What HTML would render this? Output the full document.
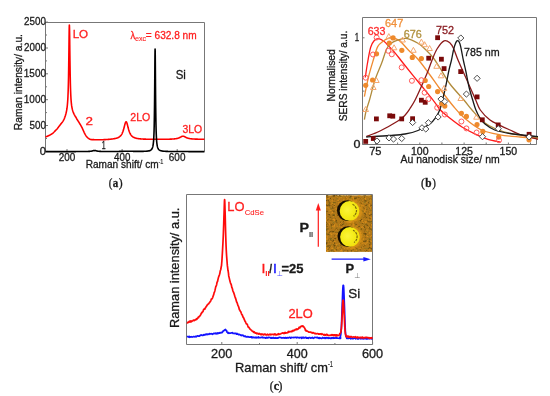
<!DOCTYPE html>
<html><head><meta charset="utf-8"><style>
html,body{margin:0;padding:0;background:#fff;}
svg{display:block;}
</style></head><body>
<svg width="550" height="396" viewBox="0 0 550 396">
<rect width="550" height="396" fill="#fff"/>

<defs>
<filter id="tex" x="0" y="0" width="100%" height="100%" color-interpolation-filters="sRGB">
 <feTurbulence type="fractalNoise" baseFrequency="0.42" numOctaves="3" seed="11" result="n"/>
 <feColorMatrix in="n" type="matrix" values="0 0 0 0 0.42  0 0 0 0 0.30  0 0 0 0 0.05  -3.4 0 0 0 1.72" result="dk"/>
 <feColorMatrix in="n" type="matrix" values="0 0 0 0 0.86  0 0 0 0 0.56  0 0 0 0 0.10  0 3.4 0 0 -1.72" result="lt"/>
 <feColorMatrix in="n" type="matrix" values="0 0 0 0 0.50  0 0 0 0 0.46  0 0 0 0 0.12  0 0 3.0 0 -1.75" result="ol"/>
 <feMerge result="m"><feMergeNode in="SourceGraphic"/><feMergeNode in="dk"/><feMergeNode in="lt"/><feMergeNode in="ol"/></feMerge>
 <feGaussianBlur in="m" stdDeviation="0.35"/>
</filter>
<filter id="soft" x="-20%" y="-20%" width="140%" height="140%"><feGaussianBlur stdDeviation="0.8"/></filter>
<filter id="soft2" x="-20%" y="-20%" width="140%" height="140%"><feGaussianBlur stdDeviation="0.35"/></filter>
<radialGradient id="disc" cx="0.38" cy="0.45" r="0.65">
 <stop offset="0" stop-color="#fbf43a"/><stop offset="0.6" stop-color="#f4ea14"/><stop offset="0.9" stop-color="#f2e010"/><stop offset="1" stop-color="#eec010"/>
</radialGradient>
</defs>
<rect x="326" y="195.6" width="46" height="56" fill="#a87416"/>
<rect x="326" y="195.6" width="46" height="56" fill="#b27818" filter="url(#tex)"/>
<g>
<circle cx="350.6" cy="211.2" r="11.6" fill="#dc9414" opacity="0.85" filter="url(#soft)"/>
<circle cx="351.0" cy="237.2" r="11.6" fill="#dc9414" opacity="0.85" filter="url(#soft)"/>
<g filter="url(#soft2)">
<circle cx="347.3" cy="210.6" r="10.4" fill="#150c00"/>
<circle cx="349.6" cy="210.9" r="9.9" fill="url(#disc)"/>
<path d="M352.5,204.2 A7,7 0 0 1 353.6,216.2" fill="none" stroke="#7c6c0c" stroke-width="1.2" stroke-dasharray="2.5,0.8,3,1,2,0.6"/>
<circle cx="347.9" cy="236.6" r="10.3" fill="#150c00"/>
<circle cx="350.0" cy="236.9" r="9.9" fill="url(#disc)"/>
<path d="M353.0,230.2 A7,7 0 0 1 354.0,242.4" fill="none" stroke="#7c6c0c" stroke-width="1.2" stroke-dasharray="2.2,1,2.6,0.8,3,0.6"/>
</g>
</g>

<g fill="none" stroke="#777" stroke-width="1">
<path d="M45.5,22.5 H204.5 V151.5"/>
<path d="M45.5,22 V152"/>
<path d="M45.5,151.4 h2.5"/>
<path d="M45.5,138.5 h1.5"/>
<path d="M45.5,125.5 h2.5"/>
<path d="M45.5,112.6 h1.5"/>
<path d="M45.5,99.7 h2.5"/>
<path d="M45.5,86.8 h1.5"/>
<path d="M45.5,73.8 h2.5"/>
<path d="M45.5,60.9 h1.5"/>
<path d="M45.5,48.0 h2.5"/>
<path d="M45.5,35.0 h1.5"/>
<path d="M45.5,22.1 h2.5"/>
<path d="M67.0,151.5 v-2.5"/>
<path d="M94.5,151.5 v-1.5"/>
<path d="M122.1,151.5 v-2.5"/>
<path d="M149.7,151.5 v-1.5"/>
<path d="M177.2,151.5 v-2.5"/>
</g>
<path d="M45.51,136.92 L45.79,136.83 L46.06,136.74 L46.34,136.65 L46.61,136.55 L46.89,136.44 L47.16,136.33 L47.44,136.22 L47.72,136.10 L47.99,135.98 L48.27,135.85 L48.54,135.72 L48.82,135.58 L49.09,135.44 L49.37,135.30 L49.64,135.15 L49.92,135.01 L50.19,134.85 L50.47,134.70 L50.75,134.54 L51.02,134.39 L51.30,134.23 L51.57,134.06 L51.85,133.90 L52.12,133.74 L52.40,133.51 L52.67,133.28 L52.95,133.03 L53.23,132.78 L53.50,132.52 L53.78,132.26 L54.05,131.99 L54.33,131.72 L54.60,131.44 L54.88,131.16 L55.15,130.88 L55.43,130.60 L55.70,130.33 L55.98,130.05 L56.26,129.78 L56.53,129.51 L56.81,129.24 L57.08,128.98 L57.36,128.60 L57.63,128.23 L57.91,127.86 L58.18,127.49 L58.46,127.12 L58.73,126.76 L59.01,126.39 L59.29,126.03 L59.56,125.67 L59.84,125.31 L60.11,124.94 L60.39,124.58 L60.66,124.22 L60.94,123.88 L61.21,123.54 L61.49,123.20 L61.77,122.86 L62.04,122.51 L62.32,122.15 L62.59,121.77 L62.87,121.37 L63.14,120.94 L63.42,120.47 L63.69,119.97 L63.97,119.41 L64.25,118.78 L64.52,118.09 L64.80,117.34 L65.07,116.53 L65.35,115.66 L65.62,114.73 L65.90,113.73 L65.97,113.46 L66.04,113.19 L66.10,112.91 L66.17,112.62 L66.24,112.32 L66.31,112.02 L66.38,111.71 L66.45,111.38 L66.52,111.04 L66.59,110.69 L66.66,110.33 L66.72,109.95 L66.79,109.55 L66.86,109.14 L66.93,108.70 L67.00,108.24 L67.07,107.70 L67.14,107.13 L67.21,106.53 L67.28,105.90 L67.34,105.23 L67.41,104.51 L67.48,103.74 L67.55,102.91 L67.62,102.02 L67.69,101.04 L67.76,99.98 L67.83,98.82 L67.90,97.55 L67.96,96.14 L68.03,94.58 L68.10,92.86 L68.17,90.94 L68.24,88.81 L68.31,86.42 L68.38,83.76 L68.45,80.78 L68.52,77.46 L68.58,73.76 L68.65,69.66 L68.72,65.15 L68.79,60.25 L68.86,55.01 L68.93,49.52 L69.00,43.95 L69.07,38.55 L69.14,33.61 L69.20,29.49 L69.27,26.55 L69.34,25.07 L69.41,25.19 L69.48,26.92 L69.55,30.05 L69.62,34.29 L69.69,39.28 L69.75,44.68 L69.82,50.18 L69.89,55.56 L69.96,60.68 L70.03,65.44 L70.10,69.81 L70.17,73.77 L70.24,77.33 L70.31,80.53 L70.37,83.39 L70.44,85.95 L70.51,88.23 L70.58,90.28 L70.65,92.11 L70.72,93.75 L70.79,95.23 L70.86,96.56 L70.93,97.77 L70.99,98.86 L71.06,99.86 L71.13,100.77 L71.20,101.60 L71.27,102.36 L71.34,103.06 L71.41,103.71 L71.48,104.31 L71.55,104.86 L71.61,105.38 L71.68,105.86 L71.75,106.32 L71.82,106.74 L71.89,107.14 L71.96,107.52 L72.03,107.87 L72.10,108.21 L72.17,108.53 L72.23,108.84 L72.30,109.13 L72.37,109.41 L72.44,109.68 L72.51,109.94 L72.79,110.89 L73.06,111.73 L73.34,112.49 L73.61,113.20 L73.89,113.77 L74.16,114.30 L74.44,114.81 L74.71,115.30 L74.99,115.78 L75.27,116.26 L75.54,116.74 L75.82,117.22 L76.09,117.71 L76.37,118.21 L76.64,118.73 L76.92,119.25 L77.19,119.65 L77.47,120.06 L77.74,120.47 L78.02,120.89 L78.30,121.32 L78.57,121.75 L78.85,122.19 L79.12,122.64 L79.40,123.09 L79.67,123.55 L79.95,124.01 L80.22,124.47 L80.50,124.94 L80.78,125.40 L81.05,125.87 L81.33,126.34 L81.60,126.81 L81.88,127.36 L82.15,127.93 L82.43,128.52 L82.70,129.13 L82.98,129.75 L83.25,130.37 L83.53,131.00 L83.81,131.62 L84.08,132.23 L84.36,132.82 L84.63,133.39 L84.91,133.94 L85.18,134.45 L85.46,134.93 L85.73,135.36 L86.01,135.76 L86.28,136.13 L86.56,136.48 L86.84,136.80 L87.11,137.10 L87.39,137.38 L87.66,137.64 L87.94,137.89 L88.21,138.11 L88.49,138.32 L88.76,138.52 L89.04,138.70 L89.32,138.87 L89.59,139.03 L89.87,139.17 L90.14,139.29 L90.42,139.39 L90.69,139.47 L90.97,139.53 L91.24,139.58 L91.52,139.62 L91.80,139.64 L92.07,139.66 L92.35,139.67 L92.62,139.67 L92.90,139.68 L93.17,139.67 L93.45,139.67 L93.72,139.67 L94.00,139.67 L94.27,139.68 L94.55,139.69 L94.83,139.71 L95.10,139.72 L95.38,139.73 L95.65,139.74 L95.93,139.75 L96.20,139.75 L96.48,139.76 L96.75,139.76 L97.03,139.76 L97.31,139.76 L97.58,139.76 L97.86,139.76 L98.13,139.76 L98.41,139.76 L98.68,139.76 L98.96,139.76 L99.23,139.76 L99.51,139.75 L99.78,139.75 L100.06,139.75 L100.34,139.75 L100.61,139.74 L100.89,139.74 L101.16,139.74 L101.44,139.73 L101.71,139.73 L101.99,139.72 L102.26,139.71 L102.54,139.71 L102.81,139.70 L103.09,139.69 L103.37,139.68 L103.64,139.67 L103.92,139.66 L104.19,139.65 L104.47,139.64 L104.74,139.62 L105.02,139.61 L105.29,139.60 L105.57,139.58 L105.85,139.57 L106.12,139.55 L106.40,139.53 L106.67,139.52 L106.95,139.50 L107.22,139.48 L107.50,139.46 L107.77,139.44 L108.05,139.42 L108.33,139.40 L108.60,139.38 L108.88,139.36 L109.15,139.33 L109.43,139.31 L109.70,139.28 L109.98,139.25 L110.25,139.23 L110.53,139.20 L110.80,139.17 L111.08,139.14 L111.36,139.10 L111.63,139.07 L111.91,139.03 L112.18,139.00 L112.46,138.96 L112.73,138.92 L113.01,138.88 L113.28,138.83 L113.56,138.79 L113.84,138.74 L114.11,138.70 L114.39,138.65 L114.66,138.60 L114.94,138.55 L115.21,138.50 L115.49,138.44 L115.76,138.38 L116.04,138.31 L116.31,138.24 L116.59,138.16 L116.87,138.07 L117.14,137.98 L117.42,137.88 L117.69,137.78 L117.97,137.66 L118.24,137.53 L118.52,137.40 L118.79,137.24 L119.07,137.08 L119.34,136.89 L119.62,136.69 L119.90,136.47 L120.17,136.22 L120.45,135.95 L120.72,135.65 L121.00,135.31 L121.27,134.93 L121.55,134.51 L121.82,134.04 L122.10,133.52 L122.38,132.93 L122.65,132.27 L122.93,131.54 L123.20,130.73 L123.48,129.84 L123.75,128.87 L124.03,127.83 L124.30,126.75 L124.58,125.64 L124.86,124.57 L125.13,123.59 L125.41,122.76 L125.68,122.16 L125.96,121.84 L126.23,121.84 L126.51,122.15 L126.78,122.75 L127.06,123.58 L127.33,124.56 L127.61,125.63 L127.89,126.73 L128.16,127.82 L128.44,128.85 L128.71,129.82 L128.99,130.71 L129.26,131.52 L129.54,132.25 L129.81,132.90 L130.09,133.49 L130.37,134.01 L130.64,134.48 L130.92,134.90 L131.19,135.27 L131.47,135.61 L131.74,135.91 L132.02,136.18 L132.29,136.43 L132.57,136.65 L132.84,136.85 L133.12,137.03 L133.40,137.19 L133.67,137.34 L133.95,137.48 L134.22,137.60 L134.50,137.72 L134.77,137.82 L135.05,137.92 L135.32,138.01 L135.60,138.09 L135.88,138.17 L136.15,138.24 L136.43,138.30 L136.70,138.36 L136.98,138.42 L137.25,138.47 L137.53,138.52 L137.80,138.57 L138.08,138.61 L138.35,138.65 L138.63,138.69 L138.91,138.72 L139.18,138.75 L139.46,138.79 L139.73,138.81 L140.01,138.84 L140.28,138.87 L140.56,138.89 L140.83,138.92 L141.11,138.94 L141.38,138.96 L141.66,138.98 L141.94,139.00 L142.21,139.01 L142.49,139.03 L142.76,139.05 L143.04,139.06 L143.31,139.08 L143.59,139.09 L143.86,139.10 L144.14,139.11 L144.42,139.13 L144.69,139.14 L144.97,139.15 L145.24,139.16 L145.52,139.17 L145.79,139.17 L146.07,139.18 L146.34,139.19 L146.62,139.20 L146.90,139.21 L147.17,139.21 L147.45,139.22 L147.72,139.23 L148.00,139.23 L148.27,139.24 L148.55,139.24 L148.82,139.25 L149.10,139.25 L149.37,139.26 L149.65,139.26 L149.93,139.27 L150.20,139.27 L150.48,139.28 L150.75,139.28 L151.03,139.28 L151.30,139.29 L151.58,139.29 L151.85,139.29 L152.13,139.29 L152.41,139.30 L152.68,139.30 L152.75,139.30 L152.82,139.30 L152.89,139.30 L152.96,139.30 L153.02,139.30 L153.09,139.30 L153.16,139.30 L153.23,139.30 L153.30,139.30 L153.37,139.30 L153.44,139.31 L153.51,139.31 L153.58,139.31 L153.64,139.31 L153.71,139.31 L153.78,139.31 L153.85,139.31 L153.92,139.31 L153.99,139.31 L154.06,139.31 L154.13,139.31 L154.20,139.31 L154.26,139.31 L154.33,139.31 L154.40,139.31 L154.47,139.31 L154.54,139.31 L154.61,139.31 L154.68,139.31 L154.75,139.31 L154.82,139.31 L154.88,139.31 L154.95,139.31 L155.02,139.31 L155.09,139.31 L155.16,139.31 L155.23,139.31 L155.30,139.32 L155.37,139.32 L155.44,139.32 L155.50,139.32 L155.57,139.32 L155.64,139.32 L155.71,139.32 L155.78,139.32 L155.85,139.32 L155.92,139.32 L155.99,139.32 L156.06,139.32 L156.12,139.32 L156.19,139.32 L156.26,139.32 L156.33,139.32 L156.40,139.32 L156.47,139.32 L156.54,139.32 L156.61,139.32 L156.68,139.32 L156.74,139.32 L156.81,139.32 L156.88,139.32 L156.95,139.32 L157.02,139.32 L157.09,139.32 L157.16,139.32 L157.23,139.32 L157.30,139.32 L157.36,139.32 L157.43,139.32 L157.50,139.32 L157.57,139.32 L157.64,139.32 L157.71,139.32 L157.78,139.32 L157.85,139.32 L157.92,139.32 L158.19,139.32 L158.47,139.32 L158.74,139.32 L159.02,139.32 L159.29,139.32 L159.57,139.32 L159.84,139.32 L160.12,139.31 L160.39,139.31 L160.67,139.31 L160.95,139.31 L161.22,139.31 L161.50,139.31 L161.77,139.31 L162.05,139.30 L162.32,139.30 L162.60,139.30 L162.87,139.30 L163.15,139.29 L163.43,139.29 L163.70,139.29 L163.98,139.29 L164.25,139.28 L164.53,139.28 L164.80,139.28 L165.08,139.27 L165.35,139.27 L165.63,139.26 L165.90,139.26 L166.18,139.26 L166.46,139.25 L166.73,139.25 L167.01,139.24 L167.28,139.23 L167.56,139.23 L167.83,139.22 L168.11,139.22 L168.38,139.21 L168.66,139.20 L168.94,139.19 L169.21,139.18 L169.49,139.18 L169.76,139.17 L170.04,139.16 L170.31,139.15 L170.59,139.13 L170.86,139.12 L171.14,139.11 L171.41,139.10 L171.69,139.08 L171.97,139.07 L172.24,139.05 L172.52,139.03 L172.79,139.02 L173.07,139.00 L173.34,138.97 L173.62,138.95 L173.89,138.93 L174.17,138.90 L174.44,138.87 L174.72,138.84 L175.00,138.81 L175.27,138.77 L175.55,138.74 L175.82,138.69 L176.10,138.65 L176.37,138.60 L176.65,138.55 L176.92,138.49 L177.20,138.43 L177.48,138.36 L177.75,138.28 L178.03,138.20 L178.30,138.12 L178.58,138.02 L178.85,137.92 L179.13,137.81 L179.40,137.69 L179.68,137.56 L179.96,137.43 L180.23,137.29 L180.51,137.14 L180.78,136.99 L181.06,136.84 L181.33,136.70 L181.61,136.56 L181.88,136.44 L182.16,136.34 L182.43,136.26 L182.71,136.22 L182.99,136.20 L183.26,136.21 L183.54,136.26 L183.81,136.34 L184.09,136.44 L184.36,136.56 L184.64,136.69 L184.91,136.84 L185.19,136.98 L185.47,137.13 L185.74,137.28 L186.02,137.42 L186.29,137.55 L186.57,137.68 L186.84,137.80 L187.12,137.91 L187.39,138.01 L187.67,138.10 L187.94,138.19 L188.22,138.27 L188.50,138.34 L188.77,138.41 L189.05,138.47 L189.32,138.53 L189.60,138.58 L189.87,138.63 L190.15,138.67 L190.42,138.71 L190.70,138.75 L190.98,138.79 L191.25,138.82 L191.53,138.85 L191.80,138.88 L192.08,138.90 L192.35,138.93 L192.63,138.95 L192.90,138.97 L193.18,138.99 L193.45,139.01 L193.73,139.02 L194.01,139.04 L194.28,139.05 L194.56,139.07 L194.83,139.08 L195.11,139.09 L195.38,139.10 L195.66,139.11 L195.93,139.12 L196.21,139.13 L196.49,139.14 L196.76,139.15 L197.04,139.16 L197.31,139.17 L197.59,139.17 L197.86,139.18 L198.14,139.19 L198.41,139.19 L198.69,139.20 L198.96,139.20 L199.24,139.21 L199.52,139.22 L199.79,139.22 L200.07,139.22 L200.34,139.23 L200.62,139.23 L200.89,139.24 L201.17,139.24 L201.44,139.24 L201.72,139.25 L202.00,139.25 L202.27,139.25 L202.55,139.26 L202.82,139.26 L203.10,139.26 L203.37,139.27 L203.65,139.27 L203.92,139.27 L204.20,139.27 L204.47,139.27" fill="none" stroke="#ff0000" stroke-width="1.6" stroke-linejoin="round"/>
<path d="M45.51,151.60 L45.79,151.60 L46.06,151.60 L46.34,151.60 L46.61,151.60 L46.89,151.60 L47.16,151.60 L47.44,151.60 L47.72,151.60 L47.99,151.60 L48.27,151.60 L48.54,151.60 L48.82,151.60 L49.09,151.60 L49.37,151.60 L49.64,151.60 L49.92,151.60 L50.19,151.60 L50.47,151.60 L50.75,151.60 L51.02,151.60 L51.30,151.60 L51.57,151.60 L51.85,151.60 L52.12,151.60 L52.40,151.60 L52.67,151.60 L52.95,151.60 L53.23,151.60 L53.50,151.60 L53.78,151.60 L54.05,151.60 L54.33,151.60 L54.60,151.60 L54.88,151.60 L55.15,151.60 L55.43,151.60 L55.70,151.60 L55.98,151.60 L56.26,151.60 L56.53,151.60 L56.81,151.59 L57.08,151.59 L57.36,151.59 L57.63,151.59 L57.91,151.59 L58.18,151.59 L58.46,151.59 L58.73,151.59 L59.01,151.59 L59.29,151.59 L59.56,151.59 L59.84,151.59 L60.11,151.59 L60.39,151.59 L60.66,151.59 L60.94,151.59 L61.21,151.59 L61.49,151.59 L61.77,151.59 L62.04,151.59 L62.32,151.59 L62.59,151.59 L62.87,151.59 L63.14,151.59 L63.42,151.59 L63.69,151.59 L63.97,151.59 L64.25,151.59 L64.52,151.59 L64.80,151.59 L65.07,151.59 L65.35,151.59 L65.62,151.59 L65.90,151.59 L65.97,151.59 L66.04,151.59 L66.10,151.59 L66.17,151.59 L66.24,151.59 L66.31,151.59 L66.38,151.59 L66.45,151.59 L66.52,151.59 L66.59,151.59 L66.66,151.59 L66.72,151.59 L66.79,151.59 L66.86,151.59 L66.93,151.59 L67.00,151.59 L67.07,151.59 L67.14,151.59 L67.21,151.59 L67.28,151.59 L67.34,151.59 L67.41,151.59 L67.48,151.59 L67.55,151.59 L67.62,151.59 L67.69,151.59 L67.76,151.59 L67.83,151.59 L67.90,151.59 L67.96,151.59 L68.03,151.59 L68.10,151.59 L68.17,151.59 L68.24,151.59 L68.31,151.59 L68.38,151.59 L68.45,151.59 L68.52,151.59 L68.58,151.59 L68.65,151.59 L68.72,151.59 L68.79,151.59 L68.86,151.59 L68.93,151.59 L69.00,151.59 L69.07,151.59 L69.14,151.59 L69.20,151.59 L69.27,151.59 L69.34,151.59 L69.41,151.59 L69.48,151.59 L69.55,151.59 L69.62,151.59 L69.69,151.59 L69.75,151.59 L69.82,151.59 L69.89,151.59 L69.96,151.59 L70.03,151.59 L70.10,151.59 L70.17,151.59 L70.24,151.58 L70.31,151.58 L70.37,151.58 L70.44,151.58 L70.51,151.58 L70.58,151.58 L70.65,151.58 L70.72,151.58 L70.79,151.58 L70.86,151.58 L70.93,151.58 L70.99,151.58 L71.06,151.58 L71.13,151.58 L71.20,151.58 L71.27,151.58 L71.34,151.58 L71.41,151.58 L71.48,151.58 L71.55,151.58 L71.61,151.58 L71.68,151.58 L71.75,151.58 L71.82,151.58 L71.89,151.58 L71.96,151.58 L72.03,151.58 L72.10,151.58 L72.17,151.58 L72.23,151.58 L72.30,151.58 L72.37,151.58 L72.44,151.58 L72.51,151.58 L72.79,151.58 L73.06,151.58 L73.34,151.58 L73.61,151.58 L73.89,151.58 L74.16,151.58 L74.44,151.58 L74.71,151.58 L74.99,151.58 L75.27,151.58 L75.54,151.58 L75.82,151.58 L76.09,151.57 L76.37,151.57 L76.64,151.57 L76.92,151.57 L77.19,151.57 L77.47,151.57 L77.74,151.57 L78.02,151.57 L78.30,151.57 L78.57,151.57 L78.85,151.57 L79.12,151.56 L79.40,151.56 L79.67,151.56 L79.95,151.56 L80.22,151.56 L80.50,151.56 L80.78,151.56 L81.05,151.56 L81.33,151.55 L81.60,151.55 L81.88,151.55 L82.15,151.55 L82.43,151.55 L82.70,151.54 L82.98,151.54 L83.25,151.54 L83.53,151.54 L83.81,151.53 L84.08,151.53 L84.36,151.53 L84.63,151.52 L84.91,151.52 L85.18,151.52 L85.46,151.51 L85.73,151.51 L86.01,151.50 L86.28,151.50 L86.56,151.49 L86.84,151.48 L87.11,151.47 L87.39,151.47 L87.66,151.46 L87.94,151.45 L88.21,151.44 L88.49,151.42 L88.76,151.41 L89.04,151.40 L89.32,151.38 L89.59,151.36 L89.87,151.34 L90.14,151.31 L90.42,151.28 L90.69,151.25 L90.97,151.22 L91.24,151.18 L91.52,151.13 L91.80,151.07 L92.07,151.01 L92.35,150.95 L92.62,150.87 L92.90,150.80 L93.17,150.71 L93.45,150.63 L93.72,150.56 L94.00,150.50 L94.27,150.46 L94.55,150.44 L94.83,150.46 L95.10,150.50 L95.38,150.56 L95.65,150.63 L95.93,150.71 L96.20,150.79 L96.48,150.87 L96.75,150.94 L97.03,151.01 L97.31,151.07 L97.58,151.12 L97.86,151.17 L98.13,151.21 L98.41,151.24 L98.68,151.27 L98.96,151.30 L99.23,151.32 L99.51,151.35 L99.78,151.36 L100.06,151.38 L100.34,151.39 L100.61,151.41 L100.89,151.42 L101.16,151.43 L101.44,151.44 L101.71,151.45 L101.99,151.45 L102.26,151.46 L102.54,151.47 L102.81,151.47 L103.09,151.48 L103.37,151.48 L103.64,151.48 L103.92,151.49 L104.19,151.49 L104.47,151.49 L104.74,151.50 L105.02,151.50 L105.29,151.50 L105.57,151.50 L105.85,151.50 L106.12,151.51 L106.40,151.51 L106.67,151.51 L106.95,151.51 L107.22,151.51 L107.50,151.51 L107.77,151.51 L108.05,151.51 L108.33,151.51 L108.60,151.51 L108.88,151.51 L109.15,151.51 L109.43,151.51 L109.70,151.51 L109.98,151.51 L110.25,151.51 L110.53,151.51 L110.80,151.51 L111.08,151.51 L111.36,151.50 L111.63,151.50 L111.91,151.50 L112.18,151.50 L112.46,151.50 L112.73,151.50 L113.01,151.50 L113.28,151.49 L113.56,151.49 L113.84,151.49 L114.11,151.49 L114.39,151.49 L114.66,151.48 L114.94,151.48 L115.21,151.48 L115.49,151.47 L115.76,151.47 L116.04,151.47 L116.31,151.47 L116.59,151.46 L116.87,151.46 L117.14,151.45 L117.42,151.45 L117.69,151.45 L117.97,151.44 L118.24,151.44 L118.52,151.43 L118.79,151.43 L119.07,151.42 L119.34,151.42 L119.62,151.41 L119.90,151.41 L120.17,151.40 L120.45,151.40 L120.72,151.39 L121.00,151.38 L121.27,151.38 L121.55,151.37 L121.82,151.36 L122.10,151.36 L122.38,151.35 L122.65,151.34 L122.93,151.34 L123.20,151.33 L123.48,151.32 L123.75,151.32 L124.03,151.31 L124.30,151.30 L124.58,151.30 L124.86,151.29 L125.13,151.28 L125.41,151.28 L125.68,151.27 L125.96,151.27 L126.23,151.26 L126.51,151.26 L126.78,151.26 L127.06,151.26 L127.33,151.25 L127.61,151.25 L127.89,151.25 L128.16,151.25 L128.44,151.25 L128.71,151.26 L128.99,151.26 L129.26,151.26 L129.54,151.26 L129.81,151.27 L130.09,151.27 L130.37,151.28 L130.64,151.28 L130.92,151.29 L131.19,151.29 L131.47,151.30 L131.74,151.30 L132.02,151.31 L132.29,151.31 L132.57,151.32 L132.84,151.32 L133.12,151.33 L133.40,151.33 L133.67,151.34 L133.95,151.34 L134.22,151.35 L134.50,151.35 L134.77,151.36 L135.05,151.36 L135.32,151.37 L135.60,151.37 L135.88,151.37 L136.15,151.37 L136.43,151.38 L136.70,151.38 L136.98,151.38 L137.25,151.38 L137.53,151.39 L137.80,151.39 L138.08,151.39 L138.35,151.39 L138.63,151.39 L138.91,151.39 L139.18,151.39 L139.46,151.39 L139.73,151.39 L140.01,151.38 L140.28,151.38 L140.56,151.38 L140.83,151.38 L141.11,151.38 L141.38,151.37 L141.66,151.37 L141.94,151.36 L142.21,151.36 L142.49,151.35 L142.76,151.35 L143.04,151.34 L143.31,151.34 L143.59,151.33 L143.86,151.32 L144.14,151.31 L144.42,151.30 L144.69,151.29 L144.97,151.27 L145.24,151.26 L145.52,151.25 L145.79,151.23 L146.07,151.21 L146.34,151.19 L146.62,151.17 L146.90,151.14 L147.17,151.11 L147.45,151.08 L147.72,151.05 L148.00,151.01 L148.27,150.96 L148.55,150.91 L148.82,150.86 L149.10,150.79 L149.37,150.72 L149.65,150.63 L149.93,150.53 L150.20,150.41 L150.48,150.27 L150.75,150.11 L151.03,149.91 L151.30,149.66 L151.58,149.36 L151.85,148.98 L152.13,148.50 L152.41,147.86 L152.68,147.01 L152.75,146.75 L152.82,146.47 L152.89,146.17 L152.96,145.83 L153.02,145.47 L153.09,145.07 L153.16,144.63 L153.23,144.15 L153.30,143.62 L153.37,143.03 L153.44,142.37 L153.51,141.64 L153.58,140.82 L153.64,139.90 L153.71,138.87 L153.78,137.69 L153.85,136.36 L153.92,134.83 L153.99,133.09 L154.06,131.08 L154.13,128.75 L154.20,126.06 L154.26,122.92 L154.33,119.26 L154.40,114.98 L154.47,110.00 L154.54,104.21 L154.61,97.56 L154.68,90.03 L154.75,81.76 L154.82,73.05 L154.88,64.51 L154.95,57.00 L155.02,51.56 L155.09,49.14 L155.16,50.19 L155.23,54.52 L155.30,61.32 L155.37,69.57 L155.44,78.30 L155.50,86.80 L155.57,94.65 L155.64,101.66 L155.71,107.79 L155.78,113.08 L155.85,117.63 L155.92,121.53 L155.99,124.86 L156.06,127.73 L156.12,130.19 L156.19,132.32 L156.26,134.17 L156.33,135.78 L156.40,137.18 L156.47,138.42 L156.54,139.51 L156.61,140.47 L156.68,141.33 L156.74,142.10 L156.81,142.78 L156.88,143.40 L156.95,143.95 L157.02,144.45 L157.09,144.91 L157.16,145.32 L157.23,145.70 L157.30,146.04 L157.36,146.36 L157.43,146.65 L157.50,146.92 L157.57,147.16 L157.64,147.39 L157.71,147.60 L157.78,147.80 L157.85,147.98 L157.92,148.15 L158.19,148.72 L158.47,149.16 L158.74,149.50 L159.02,149.78 L159.29,150.01 L159.57,150.19 L159.84,150.35 L160.12,150.48 L160.39,150.59 L160.67,150.69 L160.95,150.77 L161.22,150.84 L161.50,150.90 L161.77,150.96 L162.05,151.01 L162.32,151.05 L162.60,151.09 L162.87,151.13 L163.15,151.16 L163.43,151.19 L163.70,151.21 L163.98,151.23 L164.25,151.26 L164.53,151.28 L164.80,151.29 L165.08,151.31 L165.35,151.32 L165.63,151.34 L165.90,151.35 L166.18,151.36 L166.46,151.37 L166.73,151.38 L167.01,151.39 L167.28,151.40 L167.56,151.41 L167.83,151.42 L168.11,151.43 L168.38,151.43 L168.66,151.44 L168.94,151.45 L169.21,151.45 L169.49,151.46 L169.76,151.46 L170.04,151.47 L170.31,151.47 L170.59,151.48 L170.86,151.48 L171.14,151.49 L171.41,151.49 L171.69,151.49 L171.97,151.50 L172.24,151.50 L172.52,151.50 L172.79,151.51 L173.07,151.51 L173.34,151.51 L173.62,151.51 L173.89,151.52 L174.17,151.52 L174.44,151.52 L174.72,151.52 L175.00,151.53 L175.27,151.53 L175.55,151.53 L175.82,151.53 L176.10,151.53 L176.37,151.54 L176.65,151.54 L176.92,151.54 L177.20,151.54 L177.48,151.54 L177.75,151.54 L178.03,151.54 L178.30,151.55 L178.58,151.55 L178.85,151.55 L179.13,151.55 L179.40,151.55 L179.68,151.55 L179.96,151.55 L180.23,151.55 L180.51,151.56 L180.78,151.56 L181.06,151.56 L181.33,151.56 L181.61,151.56 L181.88,151.56 L182.16,151.56 L182.43,151.56 L182.71,151.56 L182.99,151.56 L183.26,151.56 L183.54,151.56 L183.81,151.57 L184.09,151.57 L184.36,151.57 L184.64,151.57 L184.91,151.57 L185.19,151.57 L185.47,151.57 L185.74,151.57 L186.02,151.57 L186.29,151.57 L186.57,151.57 L186.84,151.57 L187.12,151.57 L187.39,151.57 L187.67,151.57 L187.94,151.57 L188.22,151.57 L188.50,151.58 L188.77,151.58 L189.05,151.58 L189.32,151.58 L189.60,151.58 L189.87,151.58 L190.15,151.58 L190.42,151.58 L190.70,151.58 L190.98,151.58 L191.25,151.58 L191.53,151.58 L191.80,151.58 L192.08,151.58 L192.35,151.58 L192.63,151.58 L192.90,151.58 L193.18,151.58 L193.45,151.58 L193.73,151.58 L194.01,151.58 L194.28,151.58 L194.56,151.58 L194.83,151.58 L195.11,151.58 L195.38,151.58 L195.66,151.58 L195.93,151.58 L196.21,151.59 L196.49,151.59 L196.76,151.59 L197.04,151.59 L197.31,151.59 L197.59,151.59 L197.86,151.59 L198.14,151.59 L198.41,151.59 L198.69,151.59 L198.96,151.59 L199.24,151.59 L199.52,151.59 L199.79,151.59 L200.07,151.59 L200.34,151.59 L200.62,151.59 L200.89,151.59 L201.17,151.59 L201.44,151.59 L201.72,151.59 L202.00,151.59 L202.27,151.59 L202.55,151.59 L202.82,151.59 L203.10,151.59 L203.37,151.59 L203.65,151.59 L203.92,151.59 L204.20,151.59 L204.47,151.59" fill="none" stroke="#000" stroke-width="1.6" stroke-linejoin="round"/>
<g fill="none" stroke="#777" stroke-width="1">
<path d="M362.5,144.5 V17.5 H536.5 V144.5 H362.5"/>
<path d="M362.5,144.4 h2"/>
<path d="M362.5,91.1 h2"/>
<path d="M362.5,37.8 h2"/>
<path d="M375.5,144.5 v-2"/>
<path d="M397.6,144.5 v-2"/>
<path d="M419.8,144.5 v-2"/>
<path d="M441.9,144.5 v-2"/>
<path d="M464.1,144.5 v-2"/>
<path d="M486.2,144.5 v-2"/>
<path d="M508.4,144.5 v-2"/>
<path d="M530.5,144.5 v-2"/>
</g>
<path d="M365.30,77.50 C365.67,75.08 366.62,68.00 367.50,63.00 C368.38,58.00 369.50,51.20 370.60,47.50 C371.70,43.80 372.77,42.28 374.10,40.80 C375.43,39.32 376.97,38.52 378.60,38.60 C380.23,38.68 382.13,39.97 383.90,41.30 C385.67,42.63 387.35,44.68 389.20,46.60 C391.05,48.52 392.57,49.90 395.00,52.80 C397.43,55.70 399.63,58.80 403.80,64.00 C407.97,69.20 414.97,77.78 420.00,84.00 C425.03,90.22 430.60,96.97 434.00,101.30 C437.40,105.63 437.73,107.17 440.40,110.00 C443.07,112.83 446.40,115.47 450.00,118.30 C453.60,121.13 457.78,124.37 462.00,127.00 C466.22,129.63 470.97,132.05 475.30,134.10 C479.63,136.15 483.80,137.98 488.00,139.30 C492.20,140.62 498.42,141.55 500.50,142.00" fill="none" stroke="#ff1a1a" stroke-width="1.3"/>
<path d="M364.40,96.60 C365.08,93.33 367.02,83.10 368.50,77.00 C369.98,70.90 371.77,65.07 373.30,60.00 C374.83,54.93 376.08,49.72 377.70,46.60 C379.32,43.48 381.37,42.63 383.00,41.30 C384.63,39.97 386.08,39.18 387.50,38.60 C388.92,38.02 389.52,37.47 391.50,37.80 C393.48,38.13 396.55,38.52 399.40,40.60 C402.25,42.68 405.50,47.20 408.60,50.30 C411.70,53.40 414.43,55.08 418.00,59.20 C421.57,63.32 426.33,70.03 430.00,75.00 C433.67,79.97 436.07,83.75 440.00,89.00 C443.93,94.25 449.43,101.58 453.60,106.50 C457.77,111.42 460.33,114.58 465.00,118.50 C469.67,122.42 475.77,127.28 481.60,130.00 C487.43,132.72 493.60,133.63 500.00,134.80 C506.40,135.97 513.67,136.43 520.00,137.00 C526.33,137.57 535.00,138.00 538.00,138.20" fill="none" stroke="#f08a30" stroke-width="1.3"/>
<path d="M364.40,119.60 C364.72,118.00 365.45,113.27 366.30,110.00 C367.15,106.73 368.05,105.00 369.50,100.00 C370.95,95.00 372.97,86.17 375.00,80.00 C377.03,73.83 379.78,68.13 381.70,63.00 C383.62,57.87 384.95,52.45 386.50,49.20 C388.05,45.95 389.37,44.93 391.00,43.50 C392.63,42.07 393.80,41.45 396.30,40.60 C398.80,39.75 402.38,37.95 406.00,38.40 C409.62,38.85 414.67,41.37 418.00,43.30 C421.33,45.23 423.43,47.55 426.00,50.00 C428.57,52.45 431.07,55.00 433.40,58.00 C435.73,61.00 437.23,63.67 440.00,68.00 C442.77,72.33 446.02,78.67 450.00,84.00 C453.98,89.33 460.23,95.67 463.90,100.00 C467.57,104.33 468.85,106.42 472.00,110.00 C475.15,113.58 478.97,118.42 482.80,121.50 C486.63,124.58 490.47,126.53 495.00,128.50 C499.53,130.47 502.83,131.80 510.00,133.30 C517.17,134.80 533.33,136.80 538.00,137.50" fill="none" stroke="#b08a3a" stroke-width="1.3"/>
<path d="M366.30,136.60 C368.58,135.67 374.73,133.60 380.00,131.00 C385.27,128.40 393.73,123.63 397.90,121.00 C402.07,118.37 402.98,117.28 405.00,115.20 C407.02,113.12 408.32,111.03 410.00,108.50 C411.68,105.97 413.10,103.92 415.10,100.00 C417.10,96.08 419.85,89.83 422.00,85.00 C424.15,80.17 426.32,75.17 428.00,71.00 C429.68,66.83 430.60,63.67 432.10,60.00 C433.60,56.33 435.00,52.18 437.00,49.00 C439.00,45.82 441.93,41.90 444.10,40.90 C446.27,39.90 448.42,41.73 450.00,43.00 C451.58,44.27 452.27,45.67 453.60,48.50 C454.93,51.33 455.93,55.08 458.00,60.00 C460.07,64.92 463.12,71.50 466.00,78.00 C468.88,84.50 472.92,93.67 475.30,99.00 C477.68,104.33 477.85,106.50 480.30,110.00 C482.75,113.50 486.72,117.45 490.00,120.00 C493.28,122.55 496.67,123.63 500.00,125.30 C503.33,126.97 506.67,128.47 510.00,130.00 C513.33,131.53 515.33,132.95 520.00,134.50 C524.67,136.05 535.00,138.50 538.00,139.30" fill="none" stroke="#8b1a1a" stroke-width="1.3"/>
<path d="M366.30,137.00 C370.25,136.75 383.55,136.00 390.00,135.50 C396.45,135.00 400.33,134.83 405.00,134.00 C409.67,133.17 413.78,132.27 418.00,130.50 C422.22,128.73 427.30,125.65 430.30,123.40 C433.30,121.15 434.43,119.23 436.00,117.00 C437.57,114.77 438.62,112.83 439.70,110.00 C440.78,107.17 441.45,104.17 442.50,100.00 C443.55,95.83 444.92,90.00 446.00,85.00 C447.08,80.00 448.08,74.17 449.00,70.00 C449.92,65.83 450.67,63.67 451.50,60.00 C452.33,56.33 453.08,51.18 454.00,48.00 C454.92,44.82 456.00,41.57 457.00,40.90 C458.00,40.23 458.95,40.82 460.00,44.00 C461.05,47.18 462.30,55.33 463.30,60.00 C464.30,64.67 465.05,67.50 466.00,72.00 C466.95,76.50 467.88,82.33 469.00,87.00 C470.12,91.67 471.55,96.17 472.70,100.00 C473.85,103.83 474.68,107.00 475.90,110.00 C477.12,113.00 478.48,115.67 480.00,118.00 C481.52,120.33 482.55,122.00 485.00,124.00 C487.45,126.00 490.53,128.42 494.70,130.00 C498.87,131.58 502.78,132.40 510.00,133.50 C517.22,134.60 533.33,136.08 538.00,136.60" fill="none" stroke="#1a1a1a" stroke-width="1.3"/>
<path d="M388.8,33.6 L391.6,38.6 L386.0,38.6 Z" fill="none" stroke="#f5a870" stroke-width="1.0"/>
<path d="M394.1,44.8 L396.9,49.8 L391.3,49.8 Z" fill="none" stroke="#f5a870" stroke-width="1.0"/>
<path d="M402.6,37.0 L405.4,42.0 L399.8,42.0 Z" fill="none" stroke="#f5a870" stroke-width="1.0"/>
<path d="M413.4,47.3 L416.2,52.3 L410.6,52.3 Z" fill="none" stroke="#f5a870" stroke-width="1.0"/>
<path d="M421.4,39.1 L424.2,44.1 L418.6,44.1 Z" fill="none" stroke="#f5a870" stroke-width="1.0"/>
<path d="M424.6,41.7 L427.4,46.7 L421.8,46.7 Z" fill="none" stroke="#f5a870" stroke-width="1.0"/>
<path d="M429.6,45.5 L432.4,50.5 L426.8,50.5 Z" fill="none" stroke="#f5a870" stroke-width="1.0"/>
<path d="M376.4,77.5 L379.2,82.5 L373.6,82.5 Z" fill="none" stroke="#f5a870" stroke-width="1.0"/>
<path d="M373.3,84.5 L376.1,89.5 L370.5,89.5 Z" fill="none" stroke="#f5a870" stroke-width="1.0"/>
<path d="M365.7,106.5 L368.5,111.5 L362.9,111.5 Z" fill="none" stroke="#f5a870" stroke-width="1.0"/>
<path d="M436.6,63.3 L439.4,68.3 L433.8,68.3 Z" fill="none" stroke="#f5a870" stroke-width="1.0"/>
<path d="M441.0,72.8 L443.8,77.8 L438.2,77.8 Z" fill="none" stroke="#f5a870" stroke-width="1.0"/>
<path d="M444.1,85.4 L446.9,90.4 L441.3,90.4 Z" fill="none" stroke="#f5a870" stroke-width="1.0"/>
<path d="M460.7,95.5 L463.5,100.5 L457.9,100.5 Z" fill="none" stroke="#f5a870" stroke-width="1.0"/>
<path d="M476.5,114.2 L479.3,119.2 L473.7,119.2 Z" fill="none" stroke="#f5a870" stroke-width="1.0"/>
<rect x="435.2" y="35.3" width="4.8" height="4.8" fill="#7a0a0a"/>
<rect x="426.3" y="55.8" width="4.8" height="4.8" fill="#7a0a0a"/>
<rect x="439.0" y="56.8" width="4.8" height="4.8" fill="#7a0a0a"/>
<rect x="441.7" y="66.2" width="4.8" height="4.8" fill="#7a0a0a"/>
<rect x="458.3" y="69.2" width="4.8" height="4.8" fill="#7a0a0a"/>
<rect x="474.7" y="94.5" width="4.8" height="4.8" fill="#7a0a0a"/>
<rect x="419.0" y="97.8" width="4.8" height="4.8" fill="#7a0a0a"/>
<rect x="422.8" y="99.9" width="4.8" height="4.8" fill="#7a0a0a"/>
<rect x="374.0" y="116.5" width="4.8" height="4.8" fill="#7a0a0a"/>
<rect x="387.3" y="113.4" width="4.8" height="4.8" fill="#7a0a0a"/>
<rect x="390.4" y="113.8" width="4.8" height="4.8" fill="#7a0a0a"/>
<rect x="399.3" y="116.5" width="4.8" height="4.8" fill="#7a0a0a"/>
<rect x="410.2" y="116.3" width="4.8" height="4.8" fill="#7a0a0a"/>
<rect x="363.3" y="139.0" width="4.8" height="4.8" fill="#7a0a0a"/>
<rect x="370.9" y="136.1" width="4.8" height="4.8" fill="#7a0a0a"/>
<rect x="479.9" y="117.4" width="4.8" height="4.8" fill="#7a0a0a"/>
<rect x="495.8" y="122.5" width="4.8" height="4.8" fill="#7a0a0a"/>
<rect x="526.7" y="131.9" width="4.8" height="4.8" fill="#7a0a0a"/>
<circle cx="393.1" cy="37.9" r="2.6" fill="#ee8a2c"/>
<circle cx="389.3" cy="43.0" r="2.6" fill="#ee8a2c"/>
<circle cx="376.5" cy="53.8" r="2.6" fill="#ee8a2c"/>
<circle cx="401.8" cy="50.3" r="2.6" fill="#ee8a2c"/>
<circle cx="412.3" cy="57.4" r="2.6" fill="#ee8a2c"/>
<circle cx="421.4" cy="58.6" r="2.6" fill="#ee8a2c"/>
<circle cx="365.7" cy="85.3" r="2.6" fill="#ee8a2c"/>
<circle cx="372.6" cy="80.0" r="2.6" fill="#ee8a2c"/>
<circle cx="425.2" cy="80.5" r="2.6" fill="#ee8a2c"/>
<circle cx="428.7" cy="86.5" r="2.6" fill="#ee8a2c"/>
<circle cx="437.6" cy="91.6" r="2.6" fill="#ee8a2c"/>
<circle cx="441.6" cy="103.6" r="2.6" fill="#ee8a2c"/>
<circle cx="444.8" cy="106.1" r="2.6" fill="#ee8a2c"/>
<circle cx="461.4" cy="113.3" r="2.6" fill="#ee8a2c"/>
<circle cx="466.4" cy="116.4" r="2.6" fill="#ee8a2c"/>
<circle cx="477.0" cy="124.6" r="2.6" fill="#ee8a2c"/>
<circle cx="482.8" cy="131.4" r="2.6" fill="#ee8a2c"/>
<circle cx="498.7" cy="137.1" r="2.6" fill="#ee8a2c"/>
<circle cx="529.0" cy="139.8" r="2.6" fill="#ee8a2c"/>
<circle cx="376.6" cy="37.5" r="2.5" fill="none" stroke="#ff5a5a" stroke-width="1.0"/>
<circle cx="373.0" cy="54.5" r="2.5" fill="none" stroke="#ff5a5a" stroke-width="1.0"/>
<circle cx="365.7" cy="77.7" r="2.5" fill="none" stroke="#ff5a5a" stroke-width="1.0"/>
<circle cx="391.8" cy="54.3" r="2.5" fill="none" stroke="#ff5a5a" stroke-width="1.0"/>
<circle cx="388.3" cy="50.8" r="2.5" fill="none" stroke="#ff5a5a" stroke-width="1.0"/>
<circle cx="401.7" cy="67.4" r="2.5" fill="none" stroke="#ff5a5a" stroke-width="1.0"/>
<circle cx="411.9" cy="80.8" r="2.5" fill="none" stroke="#ff5a5a" stroke-width="1.0"/>
<circle cx="421.4" cy="80.2" r="2.5" fill="none" stroke="#ff5a5a" stroke-width="1.0"/>
<circle cx="424.6" cy="92.6" r="2.5" fill="none" stroke="#ff5a5a" stroke-width="1.0"/>
<circle cx="428.4" cy="99.1" r="2.5" fill="none" stroke="#ff5a5a" stroke-width="1.0"/>
<circle cx="437.2" cy="107.7" r="2.5" fill="none" stroke="#ff5a5a" stroke-width="1.0"/>
<circle cx="444.8" cy="114.5" r="2.5" fill="none" stroke="#ff5a5a" stroke-width="1.0"/>
<circle cx="461.4" cy="121.5" r="2.5" fill="none" stroke="#ff5a5a" stroke-width="1.0"/>
<circle cx="466.4" cy="128.4" r="2.5" fill="none" stroke="#ff5a5a" stroke-width="1.0"/>
<circle cx="476.6" cy="132.5" r="2.5" fill="none" stroke="#ff5a5a" stroke-width="1.0"/>
<circle cx="499.0" cy="140.3" r="2.5" fill="none" stroke="#ff5a5a" stroke-width="1.0"/>
<path d="M460.8,34.9 L463.9,38.0 L460.8,41.1 L457.7,38.0 Z" fill="#fff" stroke="#3a3a3a" stroke-width="0.9"/>
<path d="M477.1,75.2 L480.2,78.3 L477.1,81.4 L474.0,78.3 Z" fill="#fff" stroke="#3a3a3a" stroke-width="0.9"/>
<path d="M466.4,91.0 L469.5,94.1 L466.4,97.2 L463.3,94.1 Z" fill="#fff" stroke="#3a3a3a" stroke-width="0.9"/>
<path d="M441.0,96.0 L444.1,99.1 L441.0,102.2 L437.9,99.1 Z" fill="#fff" stroke="#3a3a3a" stroke-width="0.9"/>
<path d="M444.8,98.4 L447.9,101.5 L444.8,104.6 L441.7,101.5 Z" fill="#fff" stroke="#3a3a3a" stroke-width="0.9"/>
<path d="M438.1,113.9 L441.2,117.0 L438.1,120.1 L435.0,117.0 Z" fill="#fff" stroke="#3a3a3a" stroke-width="0.9"/>
<path d="M428.4,119.6 L431.5,122.7 L428.4,125.8 L425.3,122.7 Z" fill="#fff" stroke="#3a3a3a" stroke-width="0.9"/>
<path d="M422.0,124.7 L425.1,127.8 L422.0,130.9 L418.9,127.8 Z" fill="#fff" stroke="#3a3a3a" stroke-width="0.9"/>
<path d="M425.8,125.9 L428.9,129.0 L425.8,132.1 L422.7,129.0 Z" fill="#fff" stroke="#3a3a3a" stroke-width="0.9"/>
<path d="M412.6,119.4 L415.7,122.5 L412.6,125.6 L409.5,122.5 Z" fill="#fff" stroke="#3a3a3a" stroke-width="0.9"/>
<path d="M377.0,137.9 L380.1,141.0 L377.0,144.1 L373.9,141.0 Z" fill="#fff" stroke="#3a3a3a" stroke-width="0.9"/>
<path d="M389.0,134.8 L392.1,137.9 L389.0,141.0 L385.9,137.9 Z" fill="#fff" stroke="#3a3a3a" stroke-width="0.9"/>
<path d="M393.5,136.0 L396.6,139.1 L393.5,142.2 L390.4,139.1 Z" fill="#fff" stroke="#3a3a3a" stroke-width="0.9"/>
<path d="M401.7,135.4 L404.8,138.5 L401.7,141.6 L398.6,138.5 Z" fill="#fff" stroke="#3a3a3a" stroke-width="0.9"/>
<path d="M482.5,133.6 L485.6,136.7 L482.5,139.8 L479.4,136.7 Z" fill="#fff" stroke="#3a3a3a" stroke-width="0.9"/>
<path d="M498.3,125.6 L501.4,128.7 L498.3,131.8 L495.2,128.7 Z" fill="#fff" stroke="#3a3a3a" stroke-width="0.9"/>
<path d="M529.1,133.8 L532.2,136.9 L529.1,140.0 L526.0,136.9 Z" fill="#fff" stroke="#3a3a3a" stroke-width="0.9"/>
<g fill="none" stroke="#777" stroke-width="1">
<path d="M186.5,344.5 V194.5 H372.5 V344.5 H186.5"/>
<path d="M221.8,344.5 v-2.5"/>
<path d="M259.5,344.5 v-1.5"/>
<path d="M297.2,344.5 v-2.5"/>
<path d="M334.9,344.5 v-1.5"/>
<path d="M372.6,344.5 v-2.5"/>
</g>
<path d="M187.00,336.88 L187.27,336.77 L187.60,336.55 L187.97,336.72 L188.38,336.67 L188.83,337.10 L189.31,336.46 L189.82,337.29 L190.36,336.76 L190.91,336.86 L191.47,336.70 L192.04,337.04 L192.62,337.00 L193.19,336.70 L193.76,336.58 L194.33,336.78 L194.87,336.87 L195.40,336.36 L195.90,336.63 L196.39,336.79 L196.87,336.23 L197.35,335.91 L197.83,335.83 L198.30,336.22 L198.77,336.08 L199.25,336.26 L199.72,336.05 L200.19,335.33 L200.67,335.17 L201.15,335.13 L201.63,334.95 L202.11,335.37 L202.60,335.42 L203.09,335.36 L203.59,334.62 L204.09,335.15 L204.60,334.51 L205.07,334.55 L205.55,334.79 L206.04,334.09 L206.54,334.03 L207.05,334.71 L207.56,334.11 L208.08,334.12 L208.59,334.29 L209.11,334.33 L209.63,333.61 L210.15,333.89 L210.66,333.94 L211.16,333.94 L211.66,333.61 L212.15,333.94 L212.63,334.26 L213.09,333.64 L213.54,333.75 L213.98,333.27 L214.40,333.37 L214.98,333.69 L215.55,333.07 L216.10,333.78 L216.64,333.73 L217.16,332.86 L217.67,333.64 L218.16,333.01 L218.63,333.34 L219.08,333.25 L219.51,332.72 L219.91,333.03 L220.30,332.93 L220.66,333.00 L221.00,332.37 L221.66,332.62 L222.17,332.57 L222.56,332.00 L222.89,331.58 L223.18,330.88 L223.50,330.99 L223.97,330.42 L224.36,330.33 L224.73,329.93 L225.10,329.67 L225.48,329.42 L225.86,330.24 L226.23,330.68 L226.60,330.68 L226.87,331.86 L227.07,332.17 L227.41,332.14 L228.10,333.33 L228.41,332.62 L228.76,332.86 L229.14,333.28 L229.56,333.18 L230.01,333.15 L230.48,333.24 L230.97,333.05 L231.47,332.91 L231.99,332.78 L232.51,332.70 L233.04,333.38 L233.57,333.48 L234.10,333.34 L234.54,333.62 L235.00,333.34 L235.49,333.35 L235.99,333.59 L236.50,334.21 L237.02,333.51 L237.55,334.12 L238.07,334.00 L238.59,334.67 L239.09,334.40 L239.59,334.52 L240.06,334.73 L240.52,335.00 L240.94,335.35 L241.34,335.05 L241.70,335.65 L242.37,335.12 L242.88,335.46 L243.28,335.45 L243.63,335.61 L243.99,336.41 L244.43,336.49 L245.00,336.08 L245.35,336.17 L245.65,336.47 L245.92,336.87 L246.19,337.01 L246.47,337.01 L246.79,336.92 L247.18,336.54 L247.66,336.86 L248.25,336.71 L248.97,337.11 L249.84,337.21 L250.90,336.90 L251.22,336.97 L251.56,337.51 L251.90,336.78 L252.26,337.57 L252.64,337.67 L253.02,337.75 L253.42,337.20 L253.82,337.38 L254.24,337.43 L254.67,337.50 L255.10,337.86 L255.55,337.58 L256.01,337.21 L256.47,337.79 L256.94,337.43 L257.43,337.56 L257.91,337.70 L258.41,336.99 L258.91,337.78 L259.42,337.68 L259.94,337.53 L260.46,337.57 L260.99,337.53 L261.52,337.27 L262.06,337.62 L262.60,337.14 L263.15,337.62 L263.70,337.78 L264.25,337.59 L264.81,337.73 L265.37,338.13 L265.93,338.08 L266.49,337.33 L267.05,338.00 L267.62,337.84 L268.19,337.28 L268.75,337.60 L269.32,337.48 L269.89,337.34 L270.45,337.81 L271.02,338.21 L271.58,337.61 L272.14,338.16 L272.70,337.99 L273.15,337.44 L273.59,338.17 L274.04,337.92 L274.49,338.25 L274.94,338.04 L275.39,338.06 L275.84,337.67 L276.29,338.14 L276.74,338.26 L277.20,338.20 L277.65,337.77 L278.11,338.09 L278.57,337.82 L279.03,337.45 L279.49,337.38 L279.95,337.42 L280.41,337.54 L280.88,337.50 L281.35,337.83 L281.81,338.04 L282.29,337.87 L282.76,337.76 L283.23,337.98 L283.71,337.64 L284.19,337.79 L284.67,338.08 L285.16,337.73 L285.64,337.50 L286.13,338.22 L286.63,338.04 L287.12,337.69 L287.62,337.69 L288.12,337.84 L288.62,337.91 L289.13,337.53 L289.64,337.31 L290.15,337.52 L290.66,338.09 L291.18,337.45 L291.71,337.76 L292.23,337.50 L292.76,337.51 L293.29,337.47 L293.83,337.70 L294.37,337.46 L294.92,337.32 L295.46,337.40 L296.02,337.46 L296.57,337.78 L297.13,337.35 L297.70,337.32 L298.27,337.74 L298.84,337.70 L299.42,338.00 L300.00,337.35 L300.43,337.70 L300.88,337.70 L301.33,337.33 L301.79,338.27 L302.26,337.53 L302.73,337.41 L303.22,337.79 L303.71,337.48 L304.21,337.94 L304.71,337.67 L305.22,337.45 L305.74,337.38 L306.26,338.06 L306.79,337.61 L307.33,338.12 L307.87,337.81 L308.41,338.28 L308.96,337.65 L309.51,337.60 L310.06,337.62 L310.62,338.17 L311.18,337.99 L311.75,337.71 L312.31,337.46 L312.88,338.06 L313.45,338.35 L314.02,337.97 L314.60,337.39 L315.17,337.42 L315.74,337.48 L316.32,337.57 L316.89,337.44 L317.46,337.46 L318.04,338.07 L318.61,338.32 L319.18,337.62 L319.75,338.40 L320.31,337.90 L320.88,338.23 L321.44,338.35 L322.00,338.38 L322.55,337.48 L323.11,337.75 L323.65,338.06 L324.20,338.40 L324.74,337.54 L325.27,337.75 L325.80,338.31 L326.32,337.58 L326.84,337.86 L327.35,337.81 L327.86,338.16 L328.36,338.41 L328.85,337.66 L329.33,338.22 L329.81,338.22 L330.28,338.32 L330.74,338.04 L331.19,338.42 L331.63,337.86 L332.07,337.91 L332.49,337.73 L332.91,338.28 L333.31,337.98 L333.70,337.77 L334.09,337.67 L334.46,338.22 L334.82,338.11 L335.17,338.21 L335.51,337.89 L335.83,337.99 L336.14,337.66 L336.44,338.21 L336.73,337.52 L337.00,337.97 L339.46,338.31 L340.52,338.36 L340.62,337.88 L340.24,338.03 L339.81,338.43 L339.80,337.74 L340.39,336.62 L340.81,334.46 L341.20,329.95 L341.33,328.34 L341.45,325.70 L341.57,322.51 L341.69,319.67 L341.80,316.55 L341.90,313.42 L342.01,310.39 L342.10,307.54 L342.20,305.00 L342.34,301.47 L342.47,298.03 L342.59,294.79 L342.70,291.89 L342.80,289.42 L342.90,287.50 L343.12,285.45 L343.30,285.80 L343.48,285.45 L343.70,287.50 L343.80,289.42 L343.90,291.89 L344.02,294.79 L344.14,298.03 L344.27,301.47 L344.40,305.00 L344.49,307.54 L344.58,310.39 L344.67,313.42 L344.77,316.55 L344.87,319.67 L344.97,322.55 L345.08,325.04 L345.19,327.84 L345.30,330.46 L345.59,333.68 L345.92,336.29 L346.50,337.21 L346.70,337.60 L346.77,338.42 L346.81,338.13 L346.92,337.96 L347.19,338.02 L347.74,338.46 L348.64,338.36 L350.00,337.81 L350.30,338.04 L350.62,338.79 L350.97,338.05 L351.35,338.40 L351.74,338.27 L352.16,338.64 L352.61,338.47 L353.07,338.67 L353.55,338.42 L354.04,338.09 L354.55,338.08 L355.08,337.99 L355.62,338.75 L356.17,338.04 L356.74,337.96 L357.31,338.91 L357.89,338.15 L358.48,338.85 L359.07,338.05 L359.67,338.44 L360.26,338.20 L360.87,338.82 L361.47,338.61 L362.07,338.64 L362.67,338.77 L363.26,338.88 L363.86,338.36 L364.44,338.63 L365.02,338.47 L365.59,338.14 L366.15,338.87 L366.70,338.64 L367.23,338.86 L367.76,338.26 L368.26,338.60 L368.76,338.53 L369.23,338.79 L369.68,338.15 L370.12,338.42 L370.53,338.56 L370.93,338.15 L371.29,338.64 L371.64,338.83 L371.95,338.52 L372.24,338.75 L372.50,338.71" fill="none" stroke="#1414ff" stroke-width="1.7" stroke-linejoin="round"/>
<path d="M187.00,322.59 L187.27,322.83 L187.64,322.46 L188.08,322.54 L188.56,322.36 L189.06,321.47 L189.55,321.20 L190.00,322.00 L190.42,321.16 L190.83,320.99 L191.24,321.78 L191.66,321.02 L192.08,321.32 L192.53,320.74 L193.00,320.77 L193.44,320.02 L193.92,320.44 L194.41,320.55 L194.92,319.95 L195.42,320.02 L195.91,319.72 L196.37,318.75 L196.80,319.31 L197.31,318.70 L197.79,317.89 L198.23,317.07 L198.65,317.55 L199.07,316.53 L199.50,316.26 L199.94,315.87 L200.37,315.04 L200.80,314.64 L201.23,313.36 L201.66,313.19 L202.10,312.13 L202.55,312.11 L203.00,311.44 L203.45,309.90 L203.90,309.36 L204.35,308.86 L204.80,309.16 L205.24,307.92 L205.67,307.55 L206.11,306.55 L206.54,306.20 L206.97,305.46 L207.40,304.82 L207.83,304.52 L208.26,303.96 L208.69,303.79 L209.13,302.96 L209.56,302.65 L210.00,301.93 L210.45,301.41 L210.92,300.32 L211.39,298.97 L211.86,299.04 L212.30,298.38 L212.70,297.49 L213.24,295.79 L213.72,294.59 L214.16,292.58 L214.60,291.90 L215.02,290.15 L215.41,288.33 L215.79,286.57 L216.20,286.02 L216.63,284.72 L217.06,282.18 L217.52,281.52 L218.00,279.39 L218.43,277.59 L218.89,276.15 L219.37,275.05 L219.81,273.55 L220.20,271.05 L220.71,269.76 L221.13,267.27 L221.50,265.56 L221.71,263.05 L221.89,260.92 L222.06,258.34 L222.23,255.56 L222.40,252.60 L222.55,250.01 L222.70,247.30 L222.86,244.44 L223.01,241.45 L223.16,238.30 L223.30,235.00 L223.41,232.31 L223.51,229.38 L223.62,226.31 L223.73,223.18 L223.83,220.09 L223.92,217.14 L224.02,214.41 L224.10,212.00 L224.22,208.43 L224.32,205.04 L224.41,202.20 L224.50,200.23 L224.60,199.50 L224.70,200.23 L224.80,202.20 L224.89,205.04 L224.99,208.43 L225.10,212.00 L225.17,214.41 L225.24,217.14 L225.31,220.09 L225.39,223.18 L225.46,226.31 L225.54,229.38 L225.62,232.31 L225.70,235.00 L225.81,238.30 L225.91,241.45 L226.02,244.44 L226.14,247.30 L226.26,250.01 L226.40,252.60 L226.58,255.56 L226.79,258.34 L227.00,260.92 L227.21,263.71 L227.40,265.88 L227.68,267.88 L227.93,270.34 L228.20,271.37 L228.46,273.19 L228.73,275.92 L229.10,277.34 L229.48,279.12 L229.94,280.97 L230.42,282.79 L230.90,283.79 L231.37,285.13 L231.84,287.56 L232.32,288.32 L232.80,290.55 L233.19,291.66 L233.58,292.21 L233.98,293.51 L234.39,294.79 L234.80,296.17 L235.22,297.38 L235.66,298.63 L236.10,300.01 L236.54,301.71 L237.00,302.51 L237.44,303.72 L237.87,305.35 L238.32,306.08 L238.82,307.52 L239.40,309.77 L239.82,310.20 L240.29,311.27 L240.78,311.70 L241.30,313.28 L241.82,314.57 L242.34,314.96 L242.84,316.69 L243.30,317.66 L243.78,317.97 L244.23,319.57 L244.66,320.26 L245.08,321.36 L245.52,321.81 L245.99,323.08 L246.50,323.99 L246.93,323.84 L247.38,324.62 L247.84,326.11 L248.31,327.21 L248.80,327.10 L249.31,328.07 L249.83,328.91 L250.36,329.22 L250.90,329.84 L251.36,330.20 L251.83,330.66 L252.32,331.29 L252.81,331.28 L253.32,331.69 L253.83,332.45 L254.35,331.83 L254.86,332.73 L255.38,333.16 L255.89,332.87 L256.40,332.97 L256.86,333.83 L257.33,333.29 L257.80,333.35 L258.27,333.75 L258.74,334.15 L259.21,333.51 L259.68,333.84 L260.15,333.90 L260.62,334.55 L261.08,334.13 L261.54,334.68 L262.00,333.90 L262.47,334.16 L262.91,334.59 L263.32,334.92 L263.71,334.44 L264.11,334.20 L264.53,334.10 L264.97,334.61 L265.46,334.22 L266.00,334.97 L266.61,335.01 L267.30,334.22 L267.68,334.33 L268.08,334.96 L268.50,334.76 L268.94,334.95 L269.40,334.39 L269.87,334.12 L270.35,334.31 L270.85,334.90 L271.36,334.26 L271.88,334.34 L272.40,334.41 L272.93,334.39 L273.46,334.36 L274.00,334.95 L274.54,334.00 L275.08,333.79 L275.61,334.88 L276.14,334.76 L276.67,334.85 L277.19,334.13 L277.70,334.70 L278.20,334.61 L278.70,333.70 L279.21,334.26 L279.73,334.29 L280.26,333.99 L280.80,333.73 L281.34,333.35 L281.88,333.31 L282.42,333.07 L282.96,332.77 L283.49,333.29 L284.02,332.81 L284.55,333.33 L285.07,332.30 L285.58,333.21 L286.08,332.85 L286.56,333.01 L287.03,332.87 L287.48,332.77 L287.92,332.28 L288.33,331.50 L288.73,332.28 L289.10,331.51 L289.84,331.48 L290.48,331.74 L291.04,331.41 L291.54,331.12 L291.98,331.60 L292.39,331.05 L292.79,330.58 L293.17,330.32 L293.57,330.90 L294.00,330.27 L294.49,330.45 L294.98,329.75 L295.45,329.37 L295.92,329.59 L296.37,329.73 L296.80,328.77 L297.22,329.32 L297.62,329.29 L298.00,328.97 L298.52,328.71 L299.00,327.45 L299.44,327.91 L299.84,327.92 L300.23,326.69 L300.60,326.73 L301.11,326.36 L301.55,326.31 L301.97,325.93 L302.40,325.97 L302.84,326.60 L303.26,326.15 L303.71,326.83 L304.20,327.55 L304.61,328.11 L305.02,328.68 L305.47,330.42 L305.98,330.90 L306.60,330.50 L306.99,331.25 L307.42,331.24 L307.87,331.44 L308.34,331.66 L308.84,332.18 L309.36,332.27 L309.89,332.14 L310.44,332.09 L311.00,332.39 L311.42,332.25 L311.82,332.86 L312.21,333.14 L312.61,332.82 L313.02,332.53 L313.44,332.73 L313.89,333.03 L314.38,333.38 L314.90,333.68 L315.48,333.27 L316.11,333.87 L316.80,333.75 L317.18,333.57 L317.58,333.55 L318.00,333.76 L318.44,334.07 L318.90,333.79 L319.38,334.18 L319.87,333.97 L320.37,333.77 L320.89,334.19 L321.41,334.44 L321.94,333.76 L322.47,334.25 L323.00,334.32 L323.54,334.93 L324.07,335.06 L324.60,334.45 L325.13,335.14 L325.65,335.07 L326.16,334.49 L326.66,334.78 L327.14,334.42 L327.61,335.30 L328.06,335.16 L328.50,335.46 L329.07,335.40 L329.63,335.29 L330.19,335.41 L330.75,335.25 L331.30,334.73 L331.85,335.35 L332.38,334.68 L332.91,334.87 L333.42,335.65 L333.92,334.79 L334.40,334.86 L334.86,334.88 L335.31,335.82 L335.73,334.98 L336.14,334.78 L336.52,335.75 L336.87,334.87 L337.20,335.71 L338.00,335.42 L338.56,335.49 L338.96,335.46 L339.25,334.79 L339.51,334.75 L339.80,333.44 L340.37,333.27 L340.81,332.25 L341.20,330.00 L341.39,328.11 L341.58,325.74 L341.75,323.06 L341.91,320.26 L342.06,317.51 L342.20,315.00 L342.35,312.09 L342.48,309.10 L342.60,306.28 L342.71,303.83 L342.80,302.00 L342.96,300.34 L343.10,300.50 L343.28,300.34 L343.50,302.00 L343.62,303.83 L343.75,306.28 L343.90,309.10 L344.05,312.09 L344.20,315.00 L344.33,317.49 L344.46,320.19 L344.59,322.95 L344.72,325.61 L344.86,328.01 L345.00,330.00 L345.37,333.79 L345.90,335.80 L346.19,336.61 L346.50,336.51 L346.88,336.80 L347.36,336.07 L348.00,336.90 L348.34,337.18 L348.71,336.18 L349.10,336.55 L349.51,336.88 L349.95,337.25 L350.42,336.59 L350.91,336.55 L351.44,336.68 L351.99,337.16 L352.58,337.36 L353.20,336.97 L353.60,336.97 L354.01,337.02 L354.44,336.99 L354.88,337.10 L355.34,336.72 L355.80,337.24 L356.28,337.83 L356.77,337.17 L357.27,337.60 L357.77,336.91 L358.29,337.57 L358.81,337.67 L359.33,337.59 L359.86,337.43 L360.39,337.41 L360.93,337.62 L361.46,337.95 L362.00,337.08 L362.45,337.04 L362.93,337.84 L363.43,338.07 L363.95,337.61 L364.48,337.55 L365.03,337.91 L365.58,337.29 L366.13,337.42 L366.69,337.36 L367.25,337.85 L367.80,337.55 L368.34,337.48 L368.87,338.06 L369.38,338.39 L369.88,337.63 L370.35,338.14 L370.79,337.81 L371.21,338.36 L371.59,338.06 L371.93,337.69 L372.24,337.65 L372.50,337.43" fill="none" stroke="#ff0a0a" stroke-width="1.7" stroke-linejoin="round"/>
<text x="24.11" y="25.20" font-family="'Liberation Sans', Arial, sans-serif" font-size="11.00" fill="#1a1a1a" textLength="21.88" lengthAdjust="spacingAndGlyphs" stroke="#1a1a1a" stroke-width="0.3">2500</text>
<text x="24.11" y="51.06" font-family="'Liberation Sans', Arial, sans-serif" font-size="11.00" fill="#1a1a1a" textLength="21.88" lengthAdjust="spacingAndGlyphs" stroke="#1a1a1a" stroke-width="0.3">2000</text>
<text x="23.84" y="76.92" font-family="'Liberation Sans', Arial, sans-serif" font-size="11.00" fill="#1a1a1a" textLength="22.15" lengthAdjust="spacingAndGlyphs" stroke="#1a1a1a" stroke-width="0.3">1500</text>
<text x="23.84" y="102.78" font-family="'Liberation Sans', Arial, sans-serif" font-size="11.00" fill="#1a1a1a" textLength="22.15" lengthAdjust="spacingAndGlyphs" stroke="#1a1a1a" stroke-width="0.3">1000</text>
<text x="29.61" y="128.64" font-family="'Liberation Sans', Arial, sans-serif" font-size="11.00" fill="#1a1a1a" textLength="16.38" lengthAdjust="spacingAndGlyphs" stroke="#1a1a1a" stroke-width="0.3">500</text>
<text x="39.87" y="154.50" font-family="'Liberation Sans', Arial, sans-serif" font-size="11.00" fill="#1a1a1a" textLength="6.17" lengthAdjust="spacingAndGlyphs" stroke="#1a1a1a" stroke-width="0.3">0</text>
<text x="58.65" y="160.70" font-family="'Liberation Sans', Arial, sans-serif" font-size="11.00" fill="#1a1a1a" textLength="16.59" lengthAdjust="spacingAndGlyphs" stroke="#1a1a1a" stroke-width="0.3">200</text>
<text x="114.03" y="160.70" font-family="'Liberation Sans', Arial, sans-serif" font-size="11.00" fill="#1a1a1a" textLength="16.31" lengthAdjust="spacingAndGlyphs" stroke="#1a1a1a" stroke-width="0.3">400</text>
<text x="168.84" y="160.70" font-family="'Liberation Sans', Arial, sans-serif" font-size="11.00" fill="#1a1a1a" textLength="16.59" lengthAdjust="spacingAndGlyphs" stroke="#1a1a1a" stroke-width="0.3">600</text>
<text x="85.67" y="168.30" font-family="'Liberation Sans', Arial, sans-serif" font-size="10.80" fill="#1a1a1a" textLength="72.99" lengthAdjust="spacingAndGlyphs" stroke="#1a1a1a" stroke-width="0.3">Raman shift/ cm</text>
<text x="158.45" y="163.70" font-family="'Liberation Sans', Arial, sans-serif" font-size="7.30" fill="#1a1a1a" textLength="4.92" lengthAdjust="spacingAndGlyphs" stroke="#1a1a1a" stroke-width="0.15">-1</text>
<text transform="translate(22.40,130.14) rotate(-90)" x="0" y="0" font-family="'Liberation Sans', Arial, sans-serif" font-size="10.90" fill="#1a1a1a" textLength="96.07" lengthAdjust="spacingAndGlyphs" stroke="#1a1a1a" stroke-width="0.3">Raman intensity/ a.u.</text>
<text x="72.65" y="38.00" font-family="'Liberation Sans', Arial, sans-serif" font-size="11.80" fill="#ff1f1f" textLength="15.51" lengthAdjust="spacingAndGlyphs" stroke="#ff1f1f" stroke-width="0.3">LO</text>
<text x="85.63" y="125.20" font-family="'Liberation Sans', Arial, sans-serif" font-size="10.50" fill="#ff1f1f" textLength="7.45" lengthAdjust="spacingAndGlyphs" stroke="#ff1f1f" stroke-width="0.3">2</text>
<text x="101.77" y="148.50" font-family="'Liberation Sans', Arial, sans-serif" font-size="11.00" fill="#1a1a1a" textLength="3.87" lengthAdjust="spacingAndGlyphs" stroke="#1a1a1a" stroke-width="0.3">1</text>
<text x="130.27" y="120.60" font-family="'Liberation Sans', Arial, sans-serif" font-size="11.30" fill="#ff1f1f" textLength="19.94" lengthAdjust="spacingAndGlyphs" stroke="#ff1f1f" stroke-width="0.3">2LO</text>
<text x="182.40" y="132.50" font-family="'Liberation Sans', Arial, sans-serif" font-size="10.60" fill="#ff1f1f" textLength="19.70" lengthAdjust="spacingAndGlyphs" stroke="#ff1f1f" stroke-width="0.3">3LO</text>
<text x="130.44" y="38.60" font-family="'Liberation Sans', Arial, sans-serif" font-size="11.00" fill="#ff1f1f" textLength="4.65" lengthAdjust="spacingAndGlyphs" stroke="#ff1f1f" stroke-width="0.3">λ</text>
<text x="134.99" y="41.10" font-family="'Liberation Sans', Arial, sans-serif" font-size="7.00" fill="#ff1f1f" textLength="11.20" lengthAdjust="spacingAndGlyphs" stroke="#ff1f1f" stroke-width="0.1">exc</text>
<text x="145.81" y="38.60" font-family="'Liberation Sans', Arial, sans-serif" font-size="10.90" fill="#ff1f1f" textLength="50.86" lengthAdjust="spacingAndGlyphs" stroke="#ff1f1f" stroke-width="0.3">= 632.8 nm</text>
<text x="175.68" y="78.50" font-family="'Liberation Sans', Arial, sans-serif" font-size="12.00" fill="#1a1a1a" textLength="10.19" lengthAdjust="spacingAndGlyphs" stroke="#1a1a1a" stroke-width="0.3">Si</text>
<text x="108.72" y="186.80" font-family="'Liberation Serif', 'Times New Roman', serif" font-size="12.00" fill="#1a1a1a" textLength="3.63" lengthAdjust="spacingAndGlyphs" stroke="#1a1a1a" stroke-width="0.3">(</text>
<text x="112.74" y="186.80" font-family="'Liberation Serif', 'Times New Roman', serif" font-size="12.40" font-weight="700" fill="#1a1a1a" textLength="5.52" lengthAdjust="spacingAndGlyphs" stroke="#1a1a1a" stroke-width="0.3">a</text>
<text x="118.72" y="186.80" font-family="'Liberation Serif', 'Times New Roman', serif" font-size="12.00" fill="#1a1a1a" textLength="3.89" lengthAdjust="spacingAndGlyphs" stroke="#1a1a1a" stroke-width="0.3">)</text>
<text x="354.80" y="41.30" font-family="'Liberation Sans', Arial, sans-serif" font-size="10.60" fill="#1a1a1a" textLength="4.39" lengthAdjust="spacingAndGlyphs" stroke="#1a1a1a" stroke-width="0.3">1</text>
<text x="353.51" y="147.80" font-family="'Liberation Sans', Arial, sans-serif" font-size="10.60" fill="#1a1a1a" textLength="6.98" lengthAdjust="spacingAndGlyphs" stroke="#1a1a1a" stroke-width="0.3">0</text>
<text x="369.18" y="155.00" font-family="'Liberation Sans', Arial, sans-serif" font-size="10.60" fill="#1a1a1a" textLength="12.33" lengthAdjust="spacingAndGlyphs" stroke="#1a1a1a" stroke-width="0.3">75</text>
<text x="411.00" y="155.00" font-family="'Liberation Sans', Arial, sans-serif" font-size="10.60" fill="#1a1a1a" textLength="17.62" lengthAdjust="spacingAndGlyphs" stroke="#1a1a1a" stroke-width="0.3">100</text>
<text x="455.29" y="155.00" font-family="'Liberation Sans', Arial, sans-serif" font-size="10.60" fill="#1a1a1a" textLength="17.65" lengthAdjust="spacingAndGlyphs" stroke="#1a1a1a" stroke-width="0.3">125</text>
<text x="499.60" y="155.00" font-family="'Liberation Sans', Arial, sans-serif" font-size="10.60" fill="#1a1a1a" textLength="17.62" lengthAdjust="spacingAndGlyphs" stroke="#1a1a1a" stroke-width="0.3">150</text>
<text x="400.48" y="162.80" font-family="'Liberation Sans', Arial, sans-serif" font-size="11.00" fill="#1a1a1a" textLength="99.21" lengthAdjust="spacingAndGlyphs" stroke="#1a1a1a" stroke-width="0.3">Au nanodisk size/ nm</text>
<text transform="translate(334.60,101.45) rotate(-90)" x="0" y="0" font-family="'Liberation Sans', Arial, sans-serif" font-size="10.90" fill="#1a1a1a" textLength="52.32" lengthAdjust="spacingAndGlyphs" stroke="#1a1a1a" stroke-width="0.3">Normalised</text>
<text transform="translate(346.70,121.26) rotate(-90)" x="0" y="0" font-family="'Liberation Sans', Arial, sans-serif" font-size="10.90" fill="#1a1a1a" textLength="90.59" lengthAdjust="spacingAndGlyphs" stroke="#1a1a1a" stroke-width="0.3">SERS intensity/ a.u.</text>
<text x="367.66" y="34.50" font-family="'Liberation Sans', Arial, sans-serif" font-size="11.60" fill="#ff2a2a" textLength="17.71" lengthAdjust="spacingAndGlyphs" stroke="#ff2a2a" stroke-width="0.3">633</text>
<text x="384.94" y="26.70" font-family="'Liberation Sans', Arial, sans-serif" font-size="11.60" fill="#f0903a" textLength="18.31" lengthAdjust="spacingAndGlyphs" stroke="#f0903a" stroke-width="0.3">647</text>
<text x="403.65" y="38.10" font-family="'Liberation Sans', Arial, sans-serif" font-size="11.60" fill="#b0903c" textLength="18.02" lengthAdjust="spacingAndGlyphs" stroke="#b0903c" stroke-width="0.3">676</text>
<text x="436.04" y="33.80" font-family="'Liberation Sans', Arial, sans-serif" font-size="11.60" fill="#8b1f24" textLength="18.10" lengthAdjust="spacingAndGlyphs" stroke="#8b1f24" stroke-width="0.3">752</text>
<text x="464.05" y="56.00" font-family="'Liberation Sans', Arial, sans-serif" font-size="11.20" fill="#1a1a1a" textLength="35.65" lengthAdjust="spacingAndGlyphs" stroke="#1a1a1a" stroke-width="0.3">785 nm</text>
<text x="420.89" y="187.40" font-family="'Liberation Serif', 'Times New Roman', serif" font-size="12.00" fill="#1a1a1a" textLength="3.89" lengthAdjust="spacingAndGlyphs" stroke="#1a1a1a" stroke-width="0.3">(</text>
<text x="425.36" y="186.80" font-family="'Liberation Serif', 'Times New Roman', serif" font-size="11.80" font-weight="700" fill="#1a1a1a" textLength="6.30" lengthAdjust="spacingAndGlyphs" stroke="#1a1a1a" stroke-width="0.3">b</text>
<text x="432.25" y="187.40" font-family="'Liberation Serif', 'Times New Roman', serif" font-size="12.00" fill="#1a1a1a" textLength="3.63" lengthAdjust="spacingAndGlyphs" stroke="#1a1a1a" stroke-width="0.3">)</text>
<text x="269.70" y="389.90" font-family="'Liberation Serif', 'Times New Roman', serif" font-size="12.20" fill="#1a1a1a" textLength="3.76" lengthAdjust="spacingAndGlyphs" stroke="#1a1a1a" stroke-width="0.3">(</text>
<text x="273.69" y="389.90" font-family="'Liberation Serif', 'Times New Roman', serif" font-size="12.70" font-weight="700" fill="#1a1a1a" textLength="5.31" lengthAdjust="spacingAndGlyphs" stroke="#1a1a1a" stroke-width="0.3">c</text>
<text x="278.52" y="389.90" font-family="'Liberation Serif', 'Times New Roman', serif" font-size="12.20" fill="#1a1a1a" textLength="3.89" lengthAdjust="spacingAndGlyphs" stroke="#1a1a1a" stroke-width="0.3">)</text>
<text x="211.11" y="357.80" font-family="'Liberation Sans', Arial, sans-serif" font-size="12.80" fill="#1a1a1a" textLength="21.24" lengthAdjust="spacingAndGlyphs" stroke="#1a1a1a" stroke-width="0.3">200</text>
<text x="286.86" y="357.80" font-family="'Liberation Sans', Arial, sans-serif" font-size="12.80" fill="#1a1a1a" textLength="20.88" lengthAdjust="spacingAndGlyphs" stroke="#1a1a1a" stroke-width="0.3">400</text>
<text x="361.90" y="357.80" font-family="'Liberation Sans', Arial, sans-serif" font-size="12.80" fill="#1a1a1a" textLength="21.24" lengthAdjust="spacingAndGlyphs" stroke="#1a1a1a" stroke-width="0.3">600</text>
<text x="235.05" y="372.40" font-family="'Liberation Sans', Arial, sans-serif" font-size="12.80" fill="#1a1a1a" textLength="92.90" lengthAdjust="spacingAndGlyphs" stroke="#1a1a1a" stroke-width="0.3">Raman shift/ cm</text>
<text x="327.95" y="367.40" font-family="'Liberation Sans', Arial, sans-serif" font-size="9.00" fill="#1a1a1a" textLength="5.03" lengthAdjust="spacingAndGlyphs" stroke="#1a1a1a" stroke-width="0.15">-1</text>
<text transform="translate(179.40,328.05) rotate(-90)" x="0" y="0" font-family="'Liberation Sans', Arial, sans-serif" font-size="12.80" fill="#1a1a1a" textLength="120.42" lengthAdjust="spacingAndGlyphs" stroke="#1a1a1a" stroke-width="0.3">Raman intensity/ a.u.</text>
<text x="227.24" y="210.90" font-family="'Liberation Sans', Arial, sans-serif" font-size="12.80" fill="#ff1f1f" textLength="17.17" lengthAdjust="spacingAndGlyphs" stroke="#ff1f1f" stroke-width="0.3">LO</text>
<text x="244.71" y="215.10" font-family="'Liberation Sans', Arial, sans-serif" font-size="7.20" fill="#ff1f1f" textLength="19.23" lengthAdjust="spacingAndGlyphs" stroke="#ff1f1f" stroke-width="0.1">CdSe</text>
<text x="288.45" y="317.90" font-family="'Liberation Sans', Arial, sans-serif" font-size="12.00" fill="#ff1f1f" textLength="24.26" lengthAdjust="spacingAndGlyphs" stroke="#ff1f1f" stroke-width="0.3">2LO</text>
<text x="348.29" y="297.70" font-family="'Liberation Sans', Arial, sans-serif" font-size="13.00" fill="#1a1a1a" textLength="11.91" lengthAdjust="spacingAndGlyphs" stroke="#1a1a1a" stroke-width="0.3">Si</text>
<text x="299.54" y="232.40" font-family="'Liberation Sans', Arial, sans-serif" font-size="12.80" font-weight="700" fill="#1a1a1a" textLength="9.55" lengthAdjust="spacingAndGlyphs" stroke="#1a1a1a" stroke-width="0.3">P</text>
<text x="345.54" y="273.00" font-family="'Liberation Sans', Arial, sans-serif" font-size="12.30" font-weight="700" fill="#1a1a1a" textLength="8.60" lengthAdjust="spacingAndGlyphs" stroke="#1a1a1a" stroke-width="0.3">P</text>
<text x="262.00" y="273.20" font-family="'Liberation Sans', Arial, sans-serif" font-size="12.60" font-weight="700" fill="#ff1a1a" textLength="2.89" lengthAdjust="spacingAndGlyphs" stroke="#ff1a1a" stroke-width="0.3">I</text>
<text x="269.20" y="273.20" font-family="'Liberation Sans', Arial, sans-serif" font-size="12.60" font-weight="700" fill="#1a1a1a" textLength="2.80" lengthAdjust="spacingAndGlyphs" stroke="#1a1a1a" stroke-width="0.3">/</text>
<text x="273.50" y="273.20" font-family="'Liberation Sans', Arial, sans-serif" font-size="12.60" font-weight="700" fill="#1a1aff" textLength="2.89" lengthAdjust="spacingAndGlyphs" stroke="#1a1aff" stroke-width="0.3">I</text>
<text x="281.46" y="273.20" font-family="'Liberation Sans', Arial, sans-serif" font-size="12.60" font-weight="700" fill="#1a1a1a" textLength="22.00" lengthAdjust="spacingAndGlyphs" stroke="#1a1a1a" stroke-width="0.3">=25</text>
<text x="309.0" y="236.6" font-family="'Liberation Sans', sans-serif" font-size="7" font-weight="700" fill="#3a3a3a" textLength="4.2" lengthAdjust="spacingAndGlyphs">II</text><text x="265.2" y="275.8" font-family="'Liberation Sans', sans-serif" font-size="7.5" font-weight="700" fill="#ff1a1a" textLength="4.4" lengthAdjust="spacingAndGlyphs">II</text><text x="276.8" y="276.3" font-family="'DejaVu Sans', sans-serif" font-size="7" fill="#4a4aff">⊥</text><text x="354.3" y="277.9" font-family="'DejaVu Sans', sans-serif" font-size="7" fill="#777">⊥</text><path d="M318.3,246.7 V209" stroke="#ff1a1a" stroke-width="1.2"/><path d="M318.3,203 L320.8,210.5 L315.8,210.5 Z" fill="#ff1a1a"/><path d="M331.6,259.2 H365" stroke="#1a1aff" stroke-width="1.2"/><path d="M370.8,259.2 L363.4,256.9 L363.4,261.5 Z" fill="#1a1aff"/>
</svg>
</body></html>
